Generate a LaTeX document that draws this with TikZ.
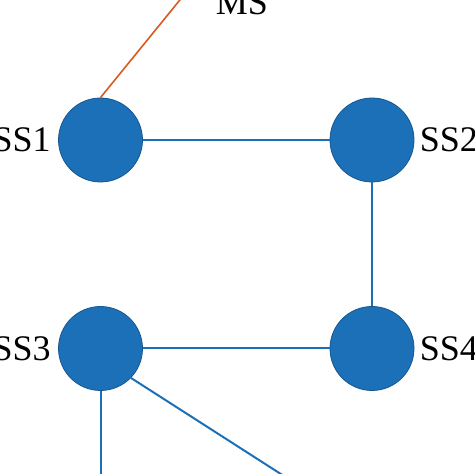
\documentclass[tikz,border=0pt]{standalone}
\usepackage{fontspec}
\setmainfont{Liberation Serif}
\usetikzlibrary{positioning}
\definecolor{ssblue}{RGB}{28,112,184}
\definecolor{ssedge}{RGB}{22,86,145}
\definecolor{msorange}{RGB}{217,90,30}
\tikzset{
station/.style={circle, fill=ssblue, draw=ssedge, line width=0.4pt, minimum size=42pt, inner sep=0pt},
lbl/.style={inner sep=0pt, font=\fontsize{18}{20}\selectfont},
link/.style={ssblue, line width=1pt}
}
\begin{document}
\begin{tikzpicture}[x=0.5pt,y=0.5pt]

\clip (0,0) rectangle (474,474);

\node[station] (ss1) at (100.5,334) {};
\node[station] (ss2) at (372,334) {};
\node[station] (ss3) at (100.5,125.5) {};
\node[station] (ss4) at (372,125.5) {};

\node[lbl, left=3.5pt of ss1] (ss1lbl) {SS1};
\node[lbl, right=2.5pt of ss2] (ss2lbl) {SS2};
\node[lbl, left=3.5pt of ss3] (ss3lbl) {SS3};
\node[lbl, right=2.5pt of ss4] (ss4lbl) {SS4};
\node[lbl, anchor=base] (ms) at (242,459) {MS};

\coordinate (msend) at (188,484);
\coordinate (down) at (100.5,-10);
\coordinate (diag) at (300,-12.3);

\draw[msorange, line width=0.8pt] (ss1.north) -- (msend);
\draw[link] (ss1) -- (ss2);
\draw[link] (ss2) -- (ss4);
\draw[link] (ss3) -- (ss4);
\draw[link] (ss3.south) -- (down);
\draw[link] (ss3.-44) -- (diag);

\end{tikzpicture}
\end{document}
